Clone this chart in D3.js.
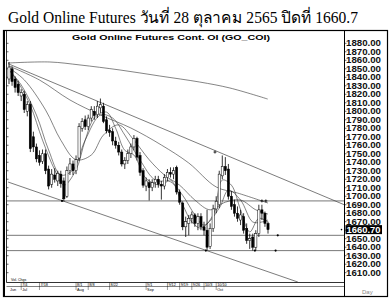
<!DOCTYPE html>
<html>
<head>
<meta charset="utf-8">
<script src="https://cdn.jsdelivr.net/npm/d3@7"></script>
<style>
body { margin: 0; background: #fff; }
svg { display: block; }
</style>
</head>
<body>
<script>
// daily candles, [open, high, low, close]
var candles = [
  [1838,1858,1832,1852],[1850,1853,1830,1835],[1838,1841,1822,1828],[1832,1836,1818,1822],
  [1818,1826,1812,1822],[1820,1824,1798,1802],[1800,1812,1794,1808],[1808,1812,1752,1756],
  [1770,1776,1752,1758],[1758,1762,1740,1744],[1748,1754,1736,1740],[1741,1755,1738,1750],
  [1750,1755,1726,1730],[1732,1736,1708,1712],[1714,1732,1710,1726],[1725,1733,1716,1720],
  [1718,1730,1712,1727],[1726,1730,1710,1715],[1718,1722,1694,1697],[1700,1735,1698,1730],
  [1730,1745,1725,1738],[1738,1742,1725,1730],[1730,1748,1726,1743],[1745,1786,1742,1782],
  [1780,1792,1776,1788],[1790,1795,1778,1782],[1782,1796,1778,1792],[1792,1806,1788,1802],
  [1800,1806,1790,1795],[1796,1812,1792,1806],[1804,1815,1798,1808],[1806,1810,1786,1788],
  [1790,1794,1774,1777],[1778,1784,1770,1775],[1776,1780,1760,1765],[1765,1770,1756,1760],
  [1760,1764,1748,1752],[1752,1755,1735,1738],[1738,1746,1732,1742],[1742,1755,1738,1750],
  [1750,1762,1745,1758],[1758,1772,1754,1768],[1768,1770,1742,1746],[1748,1752,1724,1728],
  [1730,1733,1710,1713],[1712,1722,1706,1718],[1716,1720,1695,1710],[1710,1720,1706,1716],
  [1716,1724,1710,1720],[1720,1724,1710,1714],[1714,1718,1696,1712],[1712,1726,1708,1722],
  [1722,1732,1718,1728],[1728,1734,1722,1726],[1726,1734,1720,1730],[1734,1736,1702,1705],
  [1705,1708,1690,1693],[1692,1694,1660,1664],[1664,1676,1652,1670],[1668,1678,1654,1674],
  [1674,1682,1668,1678],[1678,1680,1664,1668],[1668,1680,1660,1676],[1676,1680,1660,1664],
  [1664,1670,1654,1660],[1660,1684,1636,1640],[1641,1668,1638,1662],[1662,1690,1658,1685],
  [1685,1700,1680,1694],[1690,1730,1686,1726],[1724,1748,1720,1735],[1735,1746,1725,1730],
  [1732,1738,1696,1700],[1700,1706,1684,1688],[1690,1696,1676,1680],[1680,1688,1670,1674],
  [1672,1684,1666,1678],[1676,1680,1656,1660],[1662,1668,1644,1648],[1648,1656,1638,1650],
  [1652,1656,1636,1640],[1640,1660,1636,1656],[1656,1690,1652,1684],[1684,1690,1672,1680],
  [1680,1682,1664,1668],[1668,1670,1656,1660.7]
];
var lastClose = 1660.7;

// moving averages, [candle index, price]
var maLong = [[-0.3,1856.8],[13.4,1858],[23.3,1854.5],[36.4,1848.6],[49.5,1841.5],[62.6,1834.4],[72.5,1827.4],[84.9,1814.4]];
var maSlow = [[0,1853.3],[10,1836.8],[20,1813.3],[30,1795.6],[40,1780.3],[50,1760.3],[59,1739.1],[68,1710.9],[75,1703.8],[85,1692]];
var maMid = [[0,1851],[5,1837],[12,1801.5],[17,1766],[22,1743],[27,1748.5],[31,1772],[36,1784],[41,1766],[46,1743],
  [51,1725],[56,1713],[61,1695.5],[66,1684],[71,1693],[76,1695.5],[81,1684],[85,1679]];
var maFast = [[0,1848.6],[4,1831],[9,1795.6],[13,1754.4],[17,1725],[21,1731],[25,1766],[30,1795.6],[34,1792],[38,1772],
  [43,1742.6],[48,1719],[53,1717],[57,1701],[61,1678],[64,1666],[69,1686],[72,1707],[76,1695.5],[80,1669.7],[83,1669.7],[85,1672]];
var maShort = [[0,1848.6],[3,1834],[7,1807],[11,1766],[15,1731],[18,1713],[22,1731],[25,1766],[28,1792],[32,1799],[35,1780],
  [38,1754],[41,1748.5],[45,1721],[50,1713],[53,1719],[57,1690],[60,1669.7],[63,1662.6],[67,1678],[70,1719],[73,1713],
  [76,1684],[79,1658],[82,1674],[85,1669.7]];

// trend lines [index0, price0, index1, price1]
var trendLines = [[-0.3,1856,110,1690],[-0.3,1716.7,94.8,1599]];
var levels = [1694.5, 1654, 1636];
var dots = [[17.4,1694.5],[64.6,1636],[80.7,1636],[87.5,1636],[88.2,1654]];
var crosses = [[67.6,1752],[83,1694.5],[84.3,1694.5]];

var priceTicks = d3.range(1610, 1881, 10);
var dateIdx = [4,10,22,26,33,45,52,56,60,64,68];
var dateLabels = ["7/4","7/18","8/1","8/8","8/22","9/1","9/12","9/19","9/26","10/3","10/10"];
var monthIdx = [0,4,22,45,68];
var monthLabels = ["Jun","Jul","Aug","Sep","Oct"];

var W = 390, H = 298;
var plotL = 6.5, plotR = 344.5, plotT = 31, plotB = 282.5;

var svg = d3.select("body").append("svg").attr("width", W).attr("height", H);

var x = d3.scaleLinear().domain([0, candles.length - 1]).range([9, 268]);
var y = d3.scaleLinear().domain([1610, 1880]).range([272.7, 43.3]);

// title
svg.append("text")
  .attr("x", 8).attr("y", 23)
  .attr("textLength", 350).attr("lengthAdjust", "spacingAndGlyphs")
  .style("font-family", "'Liberation Serif', 'Times New Roman', serif")
  .style("font-size", "16px")
  .text("Gold Online Futures วันที่ 28 ตุลาคม  2565 ปิดที่ 1660.7");

// frame
svg.append("rect").attr("x", 3.5).attr("y", 30.5).attr("width", 384).attr("height", 266)
  .attr("fill", "none").attr("stroke", "#000").attr("stroke-width", 1.2);
svg.append("line").attr("x1", 4).attr("x2", 4).attr("y1", 30).attr("y2", 297)
  .attr("stroke", "#000").attr("stroke-width", 2);
svg.append("line").attr("x1", plotR).attr("x2", plotR).attr("y1", 30).attr("y2", 297)
  .attr("stroke", "#000").attr("stroke-width", 1);

svg.append("text")
  .attr("x", 72).attr("y", 39.5)
  .attr("textLength", 198).attr("lengthAdjust", "spacingAndGlyphs")
  .style("font-family", "Arial, 'Liberation Sans', sans-serif")
  .style("font-weight", "bold").style("font-size", "8px")
  .text("Gold Online Futures Cont. OI (GO_COI)");

// left minor scale
svg.append("line").attr("x1", plotL).attr("x2", plotL).attr("y1", plotT).attr("y2", plotB)
  .attr("stroke", "#000").attr("stroke-width", 0.8);
svg.append("g").selectAll("line").data(priceTicks).enter().append("line")
  .attr("x1", plotL).attr("x2", plotL + 2)
  .attr("y1", function(d) { return y(d); }).attr("y2", function(d) { return y(d); })
  .attr("stroke", "#000").attr("stroke-width", 0.6);

// right price axis
var ax = svg.append("g");
ax.selectAll("line").data(priceTicks).enter().append("line")
  .attr("x1", plotR).attr("x2", plotR + 2)
  .attr("y1", function(d) { return y(d); }).attr("y2", function(d) { return y(d); })
  .attr("stroke", "#000").attr("stroke-width", 0.6);
ax.selectAll("text").data(priceTicks.filter(function(d) { return d != 1660; })).enter().append("text")
  .attr("x", 346).attr("y", function(d) { return y(d) + 3; })
  .attr("textLength", 35).attr("lengthAdjust", "spacingAndGlyphs")
  .style("font-family", "Arial, 'Liberation Sans', sans-serif")
  .style("font-weight", "bold").style("font-size", "8.2px").attr("fill", "#111")
  .text(function(d) { return d3.format(".2f")(d); });

ax.append("rect").attr("x", 345.5).attr("y", y(lastClose) - 4.5).attr("width", 36.5).attr("height", 9)
  .attr("fill", "#000");
ax.append("text")
  .attr("x", 346.5).attr("y", y(lastClose) + 3)
  .attr("textLength", 34).attr("lengthAdjust", "spacingAndGlyphs")
  .style("font-family", "Arial, 'Liberation Sans', sans-serif")
  .style("font-weight", "bold").style("font-size", "8.2px").attr("fill", "#fff")
  .text(d3.format(".2f")(lastClose));
ax.append("circle").attr("cx", 341.5).attr("cy", y(lastClose)).attr("r", 0.8).attr("fill", "#000");

svg.append("text").attr("x", 362).attr("y", 293.5)
  .style("font-family", "Arial, sans-serif").style("font-size", "6px").attr("fill", "#888")
  .text("Day");

// date strip
svg.append("line").attr("x1", plotL).attr("x2", plotR).attr("y1", plotB).attr("y2", plotB)
  .attr("stroke", "#000").attr("stroke-width", 0.8);
svg.append("line").attr("x1", plotL).attr("x2", plotR).attr("y1", 286.5).attr("y2", 286.5)
  .attr("stroke", "#000").attr("stroke-width", 0.5);
svg.append("text").attr("x", 11).attr("y", 281)
  .style("font-family", "Arial, sans-serif").style("font-size", "3.6px").text("Vol. Chgs");
var dg = svg.append("g").style("font-family", "Arial, sans-serif").style("font-size", "3.8px");
dg.selectAll("line").data(dateIdx).enter().append("line")
  .attr("x1", function(d) { return x(d); }).attr("x2", function(d) { return x(d); })
  .attr("y1", plotB).attr("y2", 290).attr("stroke", "#000").attr("stroke-width", 0.4);
dg.selectAll("text.d").data(dateLabels).enter().append("text").attr("class", "d")
  .attr("x", function(d, i) { return x(dateIdx[i]) + 1; }).attr("y", 286)
  .text(function(d) { return d; });
dg.selectAll("text.m").data(monthLabels).enter().append("text").attr("class", "m")
  .attr("x", function(d, i) { return x(monthIdx[i]) + 1; }).attr("y", 290.5)
  .text(function(d) { return d; });

// plot contents
svg.append("clipPath").attr("id", "clip").append("rect")
  .attr("x", plotL).attr("y", plotT).attr("width", plotR - plotL).attr("height", plotB - plotT);
var plot = svg.append("g").attr("clip-path", "url(#clip)");

plot.selectAll("line.lvl").data(levels).enter().append("line").attr("class", "lvl")
  .attr("x1", plotL).attr("x2", plotR)
  .attr("y1", function(d) { return y(d); }).attr("y2", function(d) { return y(d); })
  .attr("stroke", "#555").attr("stroke-width", 0.8);

plot.selectAll("line.trend").data(trendLines).enter().append("line").attr("class", "trend")
  .attr("x1", function(d) { return x(d[0]); }).attr("y1", function(d) { return y(d[1]); })
  .attr("x2", function(d) { return x(d[2]); }).attr("y2", function(d) { return y(d[3]); })
  .attr("stroke", "#444").attr("stroke-width", 0.7);

var maLine = d3.line()
  .x(function(d) { return x(d[0]); })
  .y(function(d) { return y(d[1]); })
  .curve(d3.curveCatmullRom);

[maLong, maSlow, maMid, maFast, maShort].forEach(function(ma) {
  plot.append("path").attr("d", maLine(ma))
    .attr("fill", "none").attr("stroke", "#333").attr("stroke-width", 0.6);
});

// candles
var c = plot.selectAll("g.candle").data(candles).enter().append("g").attr("class", "candle");
c.append("line")
  .attr("x1", function(d, i) { return x(i); }).attr("x2", function(d, i) { return x(i); })
  .attr("y1", function(d) { return y(d[1]); }).attr("y2", function(d) { return y(d[2]); })
  .attr("stroke", "#000").attr("stroke-width", 0.8);
c.append("rect")
  .attr("x", function(d, i) { return x(i) - 1.1; })
  .attr("width", 2.2)
  .attr("y", function(d) { return y(Math.max(d[0], d[3])); })
  .attr("height", function(d) { return Math.max(0.8, Math.abs(y(d[0]) - y(d[3]))); })
  .attr("fill", function(d) { return d[3] >= d[0] ? "#fff" : "#000"; })
  .attr("stroke", "#000").attr("stroke-width", 0.5);

plot.selectAll("circle.dot").data(dots).enter().append("circle").attr("class", "dot")
  .attr("cx", function(d) { return x(d[0]); }).attr("cy", function(d) { return y(d[1]); })
  .attr("r", 1.1).attr("fill", "#000");

plot.selectAll("path.cross").data(crosses).enter().append("path").attr("class", "cross")
  .attr("d", function(d) {
    var cx = x(d[0]), cy = y(d[1]);
    return "M" + (cx - 1.5) + "," + cy + "H" + (cx + 1.5) + "M" + cx + "," + (cy - 1.5) + "V" + (cy + 1.5);
  })
  .attr("stroke", "#000").attr("stroke-width", 0.8);
</script>
</body>
</html>
